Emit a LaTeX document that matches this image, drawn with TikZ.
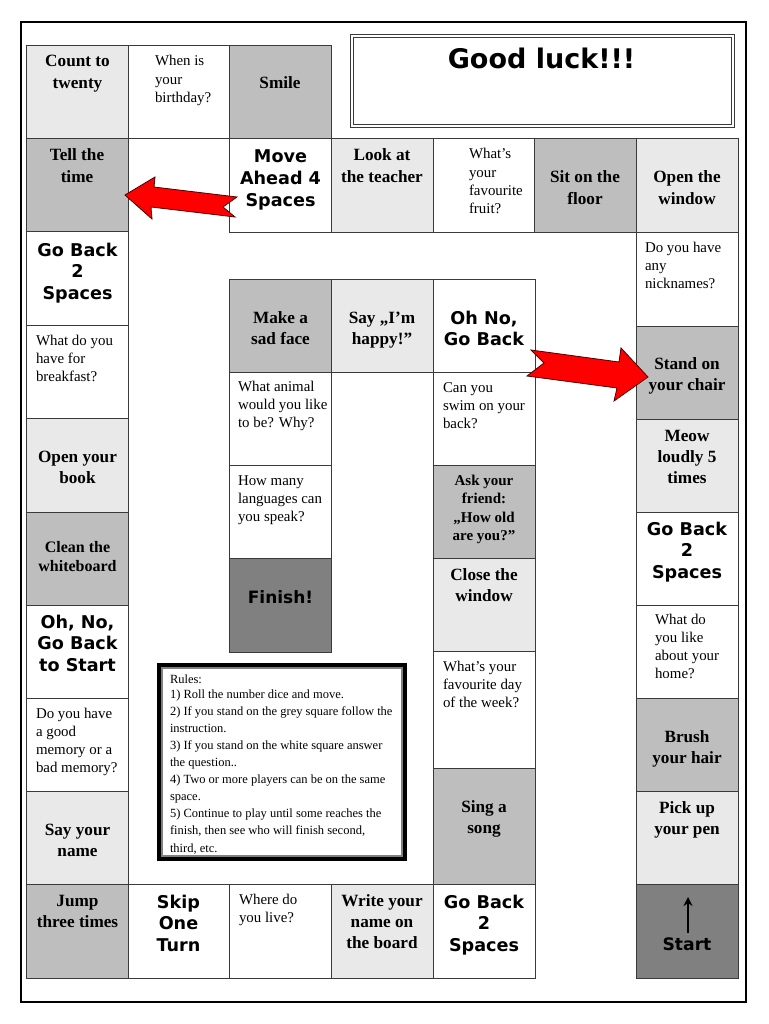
\documentclass[tikz,border=0pt]{standalone}
\usepackage{fontspec}
\setmainfont{Liberation Serif}
\newfontfamily\djfont{DejaVu Sans}
\usetikzlibrary{arrows.meta}
\definecolor{lightsq}{HTML}{E9E9E9}
\definecolor{midsq}{HTML}{BEBEBE}
\definecolor{darksq}{HTML}{808080}
\definecolor{edgeline}{HTML}{3A3A3A}
\tikzset{
  cellbox/.style={draw=edgeline,line width=1pt,inner sep=0pt,outer sep=0pt},
  txtnode/.style={anchor=base,inner sep=0pt,outer sep=0pt,text=black,yshift=-1pt},
  boldq/.style={txtnode,font=\bfseries\fontsize{17.2}{21.3}\selectfont},
  smallbold/.style={txtnode,font=\bfseries\fontsize{15}{18.5}\selectfont},
  widebold/.style={txtnode,font=\bfseries\fontsize{16}{19}\selectfont},
  plainq/.style={txtnode,font=\fontsize{14.9}{18.1}\selectfont},
  bigsans/.style={txtnode,font=\djfont\bfseries\fontsize{17.6}{21.8}\selectfont},
  redarrow/.style={draw=black!70!red,fill=red,line width=0.8pt,line join=miter},
  luckline/.style={draw=edgeline,line width=1pt,inner sep=0pt},
}
% name, x1, y1, x2, y2, fill
\newcommand{\cellsq}[6]{\node[cellbox,fill=#6,minimum width={(#4-#2)*1pt},minimum height={(#5-#3)*1pt}] (#1) at ({(#2+#4)/2},{(#3+#5)/2}) {};}
% name, style, x, baseline y, text
\newcommand{\ctxt}[5]{\node[#2] (#1) at (#3,#4) {\begin{tabular}[t]{@{}c@{}}#5\end{tabular}};}
\newcommand{\ltxt}[5]{\node[#2,anchor=base west] (#1) at (#3,#4) {\begin{tabular}[t]{@{}l@{}}#5\end{tabular}};}
\begin{document}
\begin{tikzpicture}[x=1pt,y=-1pt]
\useasboundingbox (0,0) rectangle (768,1024);
\fill[white] (0,0) rectangle (768,1024);
\node[draw=black,line width=2pt,minimum width=725pt,minimum height=980pt,inner sep=0pt] (frame) at (383.5,512) {};
\node[luckline,minimum width=384pt,minimum height=93pt] (luckbox) at (542,81.5) {};
\node[luckline,minimum width=378pt,minimum height=87pt] (luckboxin) at (542,81.5) {};
% left column
\cellsq{c1}{26}{46}{128}{139}{lightsq}
\cellsq{c2}{128}{46}{229}{139}{white}
\cellsq{c3}{229}{46}{331}{139}{midsq}
\cellsq{c4}{26}{139}{128}{232}{midsq}
\cellsq{c5}{26}{232}{128}{325}{white}
\cellsq{c6}{26}{325}{128}{418}{white}
\cellsq{c7}{26}{418}{128}{512}{lightsq}
\cellsq{c8}{26}{512}{128}{605}{midsq}
\cellsq{c9}{26}{605}{128}{698}{white}
\cellsq{c10}{26}{698}{128}{791}{white}
\cellsq{c11}{26}{791}{128}{884}{lightsq}
\cellsq{c12}{26}{884}{128}{978}{midsq}
% top row
\cellsq{t1}{229}{139}{331}{233}{white}
\cellsq{t2}{331}{139}{433}{233}{lightsq}
\cellsq{t3}{433}{139}{534}{233}{white}
\cellsq{t4}{534}{139}{636}{233}{midsq}
% right column
\cellsq{r1}{636}{139}{738}{233}{lightsq}
\cellsq{r2}{636}{233}{738}{326}{white}
\cellsq{r3}{636}{326}{738}{419}{midsq}
\cellsq{r4}{636}{419}{738}{512}{lightsq}
\cellsq{r5}{636}{512}{738}{605}{white}
\cellsq{r6}{636}{605}{738}{698}{white}
\cellsq{r7}{636}{698}{738}{791}{midsq}
\cellsq{r8}{636}{791}{738}{884}{lightsq}
\cellsq{r9}{636}{884}{738}{978}{darksq}
% inner
\cellsq{i1}{229}{279}{331}{372}{midsq}
\cellsq{i2}{331}{279}{433}{372}{lightsq}
\cellsq{i3}{433}{279}{535}{372}{white}
\cellsq{i4}{229}{372}{331}{465}{white}
\cellsq{i5}{229}{465}{331}{558}{white}
\cellsq{i6}{229}{558}{331}{652}{darksq}
\cellsq{i7}{433}{372}{535}{465}{white}
\cellsq{i8}{433}{465}{535}{558}{midsq}
\cellsq{i9}{433}{558}{535}{651}{lightsq}
\cellsq{i10}{433}{651}{535}{768}{white}
\cellsq{i11}{433}{768}{535}{884}{midsq}
% bottom row
\cellsq{b1}{433}{884}{535}{978}{white}
\cellsq{b2}{331}{884}{433}{978}{lightsq}
\cellsq{b3}{229}{884}{331}{978}{white}
\cellsq{b4}{128}{884}{229}{978}{white}
% red arrows
\draw[redarrow] (125,195) -- (155,177) -- (154,187) -- (237,197) -- (223,207) -- (235,217) -- (151,207) -- (152,219) -- cycle;
\draw[redarrow] (648,377) -- (621,348) -- (619,362) -- (531,350) -- (544,363) -- (527,376) -- (617,388) -- (614,401) -- cycle;
% texts
\ctxt{luck}{txtnode,font=\djfont\bfseries\fontsize{27}{32}\selectfont}{541.5}{67.5}{Good luck!!!}
\ctxt{c1t}{boldq}{77.5}{66}{Count to\\twenty}
\ltxt{c2t}{plainq}{155}{65}{When is\\your\\birthday?}
\ctxt{c3t}{boldq}{280}{88}{Smile}
\ctxt{c4t}{boldq}{77}{160}{Tell the\\time}
\ctxt{c5t}{bigsans}{77.5}{255}{Go Back\\2\\Spaces}
\ltxt{c6t}{plainq}{36}{344}{What do you\\have for\\breakfast?}
\ctxt{c7t}{boldq}{77.5}{461}{Open your\\book}
\ctxt{c8t}{widebold}{77.5}{551}{Clean the\\whiteboard}
\ctxt{c9t}{bigsans}{77.5}{627}{Oh, No,\\Go Back\\to Start}
\ltxt{c10t}{plainq}{36}{717}{Do you have\\a good\\memory or a\\bad memory?}
\ctxt{c11t}{boldq}{77.5}{834}{Say your\\name}
\ctxt{c12t}{boldq}{77.5}{905}{Jump\\three times}
\ctxt{t1t}{bigsans}{280.5}{162}{Move\\Ahead 4\\Spaces}
\ctxt{t2t}{boldq}{382}{160}{Look at\\the teacher}
\ltxt{t3t}{plainq}{469}{158}{What's\\your\\favourite\\fruit?}
\ctxt{t4t}{boldq}{585}{182}{Sit on the\\floor}
\ctxt{r1t}{boldq}{687}{182}{Open the\\window}
\ltxt{r2t}{plainq}{645}{251}{Do you have\\any\\nicknames?}
\ctxt{r3t}{boldq}{687}{368}{Stand on\\your chair}
\ctxt{r4t}{boldq}{687}{440}{Meow\\loudly 5\\times}
\ctxt{r5t}{bigsans}{687}{534}{Go Back\\2\\Spaces}
\ltxt{r6t}{plainq}{655}{623}{What do\\you like\\about your\\home?}
\ctxt{r7t}{boldq}{687}{741}{Brush\\your hair}
\ctxt{r8t}{boldq}{687}{812}{Pick up\\your pen}
\ctxt{r9t}{txtnode,font=\djfont\bfseries\fontsize{17.2}{22}\selectfont}{687}{949}{Start}
\coordinate (startup) at (688,897);
\draw[line width=2.6pt,-{Stealth[length=9pt,width=9pt]}] (r9t.north -| startup) ++(0,-2) -- (startup);
\ctxt{i1t}{boldq}{280.5}{322}{Make a\\sad face}
\ctxt{i2t}{boldq}{382}{322}{Say „I’m\\happy!”}
\ctxt{i3t}{bigsans}{484}{323}{Oh No,\\Go Back}
\ltxt{i4t}{plainq}{238}{390}{What animal\\would you like\\to be? Why?}
\ltxt{i5t}{plainq}{238}{484}{How many\\languages can\\you speak?}
\ctxt{i6t}{txtnode,font=\djfont\bfseries\fontsize{17}{22}\selectfont}{280.5}{602}{Finish!}
\ltxt{i7t}{plainq}{443}{391}{Can you\\swim on your\\back?}
\ctxt{i8t}{smallbold}{484}{484}{Ask your\\friend:\\„How old\\are you?”}
\ctxt{i9t}{boldq}{484}{579}{Close the\\window}
\ltxt{i10t}{plainq}{443}{670}{What's your\\favourite day\\of the week?}
\ctxt{i11t}{boldq}{484}{811}{Sing a\\song}
\ctxt{b1t}{bigsans}{484}{907}{Go Back\\2\\Spaces}
\ctxt{b2t}{boldq}{382}{905}{Write your\\name on\\the board}
\ltxt{b3t}{plainq}{239}{903}{Where do\\you live?}
\ctxt{b4t}{bigsans}{178.5}{907}{Skip\\One\\Turn}
% rules
\node[draw=black,line width=3.6pt,minimum width=246.5pt,minimum height=194pt,inner sep=0pt] (rulesout) at (282,762) {};
\node[draw=gray,line width=2.2pt,minimum width=240.5pt,minimum height=188pt,inner sep=0pt] (rulesin) at (282,762) {};
\ltxt{rules}{txtnode,yshift=0pt,font=\fontsize{12.5}{17.1}\selectfont}{170}{682}{Rules:\\[-2pt]1) Roll the number dice and move.\\2) If you stand on the grey square follow the\\instruction.\\3) If you stand on the white square answer\\the question..\\4) Two or more players can be on the same\\space.\\5) Continue to play until some reaches the\\finish, then see who will finish second,\\third, etc.}
\end{tikzpicture}
\end{document}
